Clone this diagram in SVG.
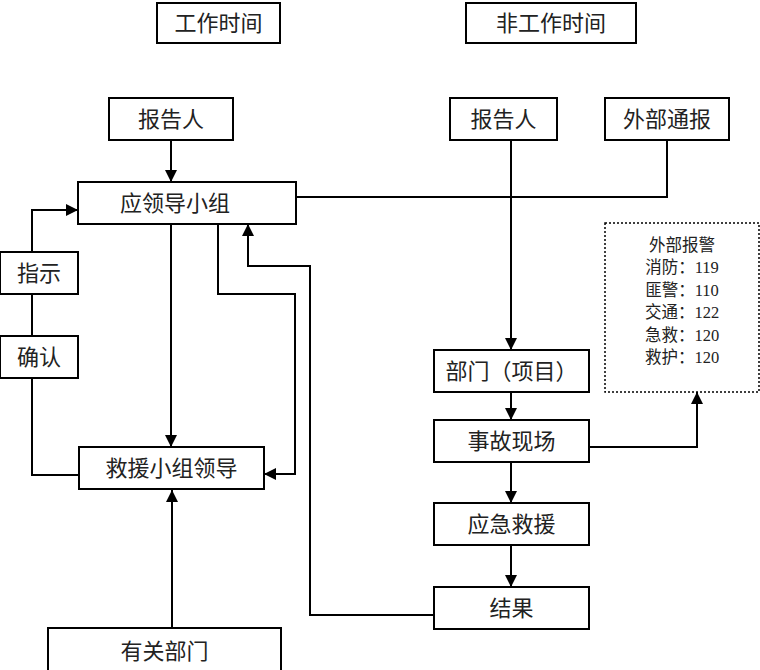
<svg xmlns="http://www.w3.org/2000/svg" width="760" height="670" viewBox="0 0 760 670">
<defs>
<style>
.b{fill:#fff;stroke:#000;stroke-width:2}
.t{font-family:"Liberation Serif","Noto Sans CJK SC",serif;font-size:22px;fill:#222;text-anchor:middle;dominant-baseline:central}
.s{font-family:"Liberation Serif","Noto Sans CJK SC",serif;font-size:16.5px;fill:#222;text-anchor:middle;dominant-baseline:central}
.c{fill:none;stroke:#000;stroke-width:2}
</style>
<marker id="a" viewBox="0 0 10 10" refX="10" refY="5" markerWidth="6" markerHeight="6" markerUnits="strokeWidth" orient="auto">
<path d="M0,0L10,5L0,10z" fill="#000"/>
</marker>
</defs>
<rect width="760" height="670" fill="#fff"/>
<g id="connectors">
<path class="c" d="M171,140V182" marker-end="url(#a)"/>
<path class="c" d="M296,197H667V141"/>
<path class="c" d="M511,141V350" marker-end="url(#a)"/>
<path class="c" d="M511,392V420" marker-end="url(#a)"/>
<path class="c" d="M589,447H697V392" marker-end="url(#a)"/>
<path class="c" d="M511,462V503" marker-end="url(#a)"/>
<path class="c" d="M511,545V587" marker-end="url(#a)"/>
<path class="c" d="M434,615H310V266H248V224" marker-end="url(#a)"/>
<path class="c" d="M171,224V447" marker-end="url(#a)"/>
<path class="c" d="M218,224V294H295V474H264" marker-end="url(#a)"/>
<path class="c" d="M79,475H32V378"/>
<path class="c" d="M32,336V294"/>
<path class="c" d="M32,252V210H78" marker-end="url(#a)"/>
<path class="c" d="M172,628V490" marker-end="url(#a)"/>
</g>
<g id="n-work"><rect class="b" x="157" y="3" width="123" height="40"/><text class="t" x="218.5" y="23">工作时间</text></g>
<g id="n-nonwork"><rect class="b" x="466" y="3" width="170" height="40"/><text class="t" x="551" y="23">非工作时间</text></g>
<g id="n-reporter1"><rect class="b" x="109" y="98" width="124" height="42"/><text class="t" x="171" y="119">报告人</text></g>
<g id="n-reporter2"><rect class="b" x="450" y="98" width="107" height="42"/><text class="t" x="503.5" y="119">报告人</text></g>
<g id="n-external"><rect class="b" x="605" y="98" width="124" height="42"/><text class="t" x="667" y="119">外部通报</text></g>
<g id="n-leader"><rect class="b" x="78" y="182" width="218" height="42"/><text class="t" x="175" y="203">应领导小组</text></g>
<g id="n-instruct"><rect class="b" x="0" y="252" width="78" height="42"/><text class="t" x="39" y="273">指示</text></g>
<g id="n-confirm"><rect class="b" x="0" y="336" width="78" height="42"/><text class="t" x="39" y="357">确认</text></g>
<g id="n-rescueleader"><rect class="b" x="79" y="447" width="185" height="42"/><text class="t" x="171.5" y="468">救援小组领导</text></g>
<g id="n-related"><rect class="b" x="48" y="628" width="233" height="44"/><text class="t" x="164.5" y="651">有关部门</text></g>
<g id="n-dept"><rect class="b" x="434" y="350" width="155" height="42"/><text class="t" x="511.5" y="371">部门（项目）</text></g>
<g id="n-scene"><rect class="b" x="434" y="420" width="155" height="42"/><text class="t" x="511.5" y="441">事故现场</text></g>
<g id="n-rescue"><rect class="b" x="434" y="503" width="155" height="42"/><text class="t" x="511.5" y="524">应急救援</text></g>
<g id="n-result"><rect class="b" x="434" y="587" width="155" height="42"/><text class="t" x="511.5" y="608">结果</text></g>
<g id="n-alarm">
<rect x="605" y="223" width="154" height="169" fill="#fff" stroke="#000" stroke-width="1.5" stroke-dasharray="2,2"/>
<text class="s" x="682" y="245">外部报警</text>
<text class="s" x="682" y="267">消防：119</text>
<text class="s" x="682" y="290">匪警：110</text>
<text class="s" x="682" y="312">交通：122</text>
<text class="s" x="682" y="335">急救：120</text>
<text class="s" x="682" y="357">救护：120</text>
</g>
</svg>
